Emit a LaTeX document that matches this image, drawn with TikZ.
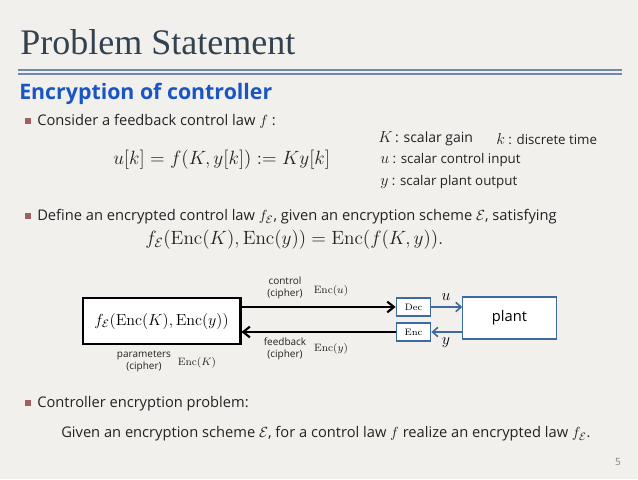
\documentclass[tikz,border=0pt]{standalone}
\usepackage[no-math]{fontspec}
\setmainfont{Open Sans}
\newfontfamily\titlefont{Liberation Serif}
\usetikzlibrary{arrows.meta}
\definecolor{bg}{HTML}{F2F0EC}
\definecolor{txt}{HTML}{222222}
\definecolor{ttl}{HTML}{33424F}
\definecolor{sub}{HTML}{1A55C4}
\definecolor{rule}{HTML}{6E88AE}
\definecolor{blu}{HTML}{3F6AA0}
\definecolor{bul}{HTML}{A06060}
\tikzset{
 lbl/.style={inner sep=0pt,text=txt,font=\fontsize{11}{13}\selectfont,anchor=west},
 small/.style={inner sep=0pt,text=txt,font=\fontsize{7.5}{9}\selectfont,align=center},
 bulletbox/.style={fill=bul,minimum size=4.5pt,inner sep=0pt},
 smbox/.style={draw=blu,thick,fill=white,minimum width=26pt,minimum height=13.5pt,inner sep=0pt,font=\fontsize{7.5}{8}\selectfont},
 blk/.style={-{Straight Barb[length=5pt,width=8pt]},line width=1.6pt},
 bar/.style={-{Straight Barb[length=4pt,width=7pt]},blu,line width=1.2pt}
}
\begin{document}
\begin{tikzpicture}[x=0.75pt,y=-0.75pt]
\fill[bg] (0,0) rectangle (638,479);
\useasboundingbox (0,0) rectangle (638,479);
\node[anchor=base west,inner sep=0pt,text=ttl,font=\titlefont\fontsize{27}{29}\selectfont] (title) at (20,54) {Problem Statement};
\draw[rule,line width=1pt] (18,70) -- (622,70) (18,74) -- (622,74);
\node[anchor=base west,inner sep=0pt,text=sub,font=\bfseries\fontsize{16}{18}\selectfont] (subt) at (19,99) {Encryption of controller};
\node[bulletbox] (b1) at (28,121) {};
\node[lbl,anchor=base west] (t1) at (37,125) {Consider a feedback control law $f$ :};
\node[lbl,font=\fontsize{14}{16}\selectfont] (eq1) at (113,160) {$u[k]=f(K,y[k]):=Ky[k]$};
\node[lbl,font=\fontsize{10.5}{12}\selectfont] (l1) at (378,139) {{\large$K$}\,: scalar gain};
\node[lbl,font=\fontsize{10}{11}\selectfont] (l2) at (496,139) {{\large$k$} : discrete time};
\node[lbl,font=\fontsize{10}{11}\selectfont] (l3) at (380,160) {{\large$u$} : scalar control input};
\node[lbl,font=\fontsize{10}{11}\selectfont] (l4) at (380,182) {{\large$y$} : scalar plant output};
\node[bulletbox] (b2) at (28,216) {};
\node[lbl] (t2) at (37,217) {Define an encrypted control law $f_{\mathcal E}$, given an encryption scheme $\mathcal E$, satisfying};
\node[lbl,font=\fontsize{14}{16}\selectfont] (eq2) at (145,240) {$f_{\mathcal E}(\mathrm{Enc}(K),\mathrm{Enc}(y))=\mathrm{Enc}(f(K,y)).$};
% diagram
\node[draw=black,line width=2pt,fill=white,minimum width=118pt,minimum height=34.5pt,inner sep=0pt,font=\fontsize{11.5}{12}\selectfont] (ctrl) at (161.5,321) {$f_{\mathcal E}(\mathrm{Enc}(K),\mathrm{Enc}(y))$};
\node[smbox] (dec) at (413.5,307) {$\mathrm{Dec}$};
\node[smbox] (enc) at (413.5,332) {$\mathrm{Enc}$};
\node[draw=blu,thick,fill=white,minimum width=70pt,minimum height=31.5pt,inner sep=0pt,font=\fontsize{11}{12}\selectfont] (plant) at (509.5,318) {plant};
\draw[blk] (ctrl.east|-dec) -- (dec.west);
\draw[blk] (enc.west) -- (ctrl.east|-enc);
\draw[bar] (dec.east) -- (plant.west|-dec);
\draw[bar] (plant.west|-enc) -- (enc.east);
\node[inner sep=0pt,font=\fontsize{11.5}{12}\selectfont] (ul) at (446,297) {$u$};
\node[inner sep=0pt,font=\fontsize{11.5}{12}\selectfont] (yl) at (446,343) {$y$};
\node[small] (cc) at (285,288) {control\\(cipher)};
\node[small,font=\fontsize{8.5}{10}\selectfont] (eu) at (331,291) {$\mathrm{Enc}(u)$};
\node[small] (fc) at (285,349) {feedback\\(cipher)};
\node[small,font=\fontsize{8.5}{10}\selectfont] (ey) at (331,349) {$\mathrm{Enc}(y)$};
\node[small] (pc) at (144,361) {parameters\\(cipher)};
\node[small,font=\fontsize{8.5}{10}\selectfont] (ek) at (197,363) {$\mathrm{Enc}(K)$};
\node[bulletbox] (b3) at (28,403) {};
\node[lbl] (t3) at (37,404) {Controller encryption problem:};
\node[lbl] (t4) at (61,434) {Given an encryption scheme $\mathcal E$, for a control law $f$ realize an encrypted law $f_{\mathcal E}$.};
\node[inner sep=0pt,text=gray,font=\fontsize{7.5}{9}\selectfont] (pg) at (618,462) {5};
\end{tikzpicture}
\end{document}
